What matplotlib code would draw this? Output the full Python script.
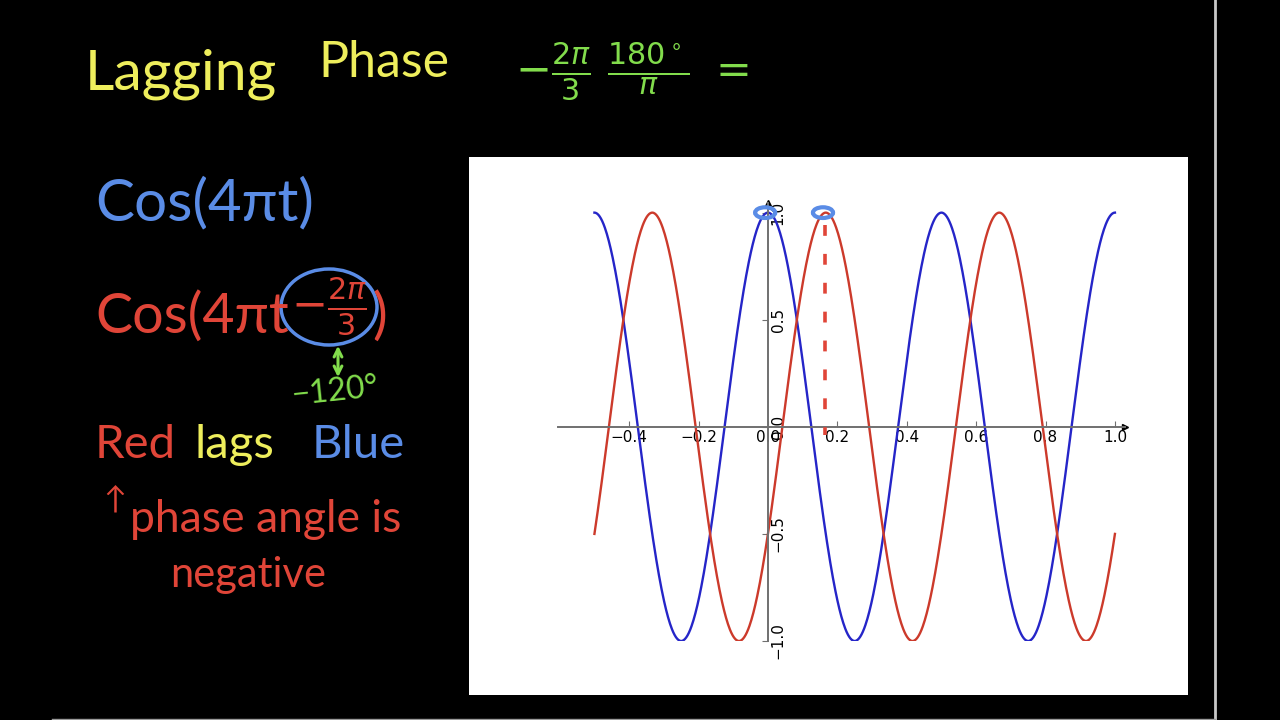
"""
lagging_phase.py

Lecture frame: cos(4*pi*t) against cos(4*pi*t - 2*pi/3) with notes.
"""

import numpy as np
import matplotlib.pyplot as plt
from matplotlib.patches import Rectangle, Ellipse, FancyArrowPatch

W, H = 1280, 720

# the two curves on the slide: cos(OMEGA * t + phase)
T_RANGE = (-0.5, 1.0)
OMEGA = 4 * np.pi
PHASES = [0.0, -2 * np.pi / 3]
CURVE_COLORS = ["#2525c8", "#cc3a2b"]

X_TICKS = [-0.4, -0.2, 0.0, 0.2, 0.4, 0.6, 0.8, 1.0]
Y_TICKS = [-1.0, -0.5, 0.0, 0.5, 1.0]

# peaks circled by hand on the plot
PEAK_T = [0.0, 1 / 6]

YELLOW = "#eeee5c"
GREEN = "#82dc4c"
BLUE = "#5a8ce6"
RED = "#e04538"
HAND = ["Lato", "DejaVu Sans"]


def fx(px):
    return px / W


def fy(py):
    return 1 - py / H


def note(fig, s, x, y, color, size, **kw):
    kw.setdefault("va", "baseline")
    fig.text(fx(x), fy(y), s, color=color, fontsize=size,
             family=HAND, **kw)


def main():
    fig = plt.figure(figsize=(12.8, 7.2), dpi=100, facecolor="black")

    # white panel holding the plot
    fig.patches.append(Rectangle((fx(469), fy(695)), (1188 - 469) / W,
                                 (695 - 157) / H, transform=fig.transFigure,
                                 facecolor="white", edgecolor="none",
                                 zorder=-2))
    # frame edge lines of the recording
    fig.lines.append(plt.Line2D([fx(1215), fx(1215)], [0, 1],
                                transform=fig.transFigure,
                                color="#c8c8c8", lw=2))
    fig.lines.append(plt.Line2D([fx(52), fx(1215)], [fy(719), fy(719)],
                                transform=fig.transFigure,
                                color="#9a9a9a", lw=1))

    ax = fig.add_axes([fx(558), fy(641), (1125 - 558) / W, (641 - 203) / H])
    ax.set_facecolor("none")

    t = np.linspace(T_RANGE[0], T_RANGE[1], 800)
    for phase, color in zip(PHASES, CURVE_COLORS):
        ax.plot(t, np.cos(OMEGA * t + phase), color=color, lw=1.7)

    ax.set_xlim(-0.605, 1.029)
    ax.set_ylim(-1.0, 1.045)

    for side in ["top", "right"]:
        ax.spines[side].set_visible(False)
    for side in ["left", "bottom"]:
        ax.spines[side].set_position("zero")
        ax.spines[side].set_color("#707070")
        ax.spines[side].set_linewidth(1.4)

    ax.set_xticks(X_TICKS)
    ax.set_yticks(Y_TICKS)
    ax.tick_params(axis="x", direction="in", length=4, pad=2,
                   colors="black", labelsize=11)
    ax.tick_params(axis="x", color="#707070")
    ax.tick_params(axis="y", direction="out", length=4, pad=-6,
                   labelrotation=90, colors="black", labelsize=11)
    ax.tick_params(axis="y", color="#707070")
    plt.setp(ax.get_yticklabels(), ha="left", va="center")

    # axis arrows
    ax.plot(1, 0, ">", color="black", ms=4,
            transform=ax.get_yaxis_transform(), clip_on=False)
    ax.plot(0, 1, "^", color="black", ms=4,
            transform=ax.get_xaxis_transform(), clip_on=False)

    # hand-drawn marks on the plot
    for pt in PEAK_T:
        ax.add_patch(Ellipse((pt - 0.008, 1.0), 0.058, 0.05, fill=False,
                             edgecolor=BLUE, lw=3, clip_on=False, zorder=5))
    ax.plot([PEAK_T[1] - 0.002, PEAK_T[1] - 0.002], [0.94, -0.04],
            color=RED, lw=2.6, ls=(0, (3, 5)), zorder=5)

    # handwritten notes
    note(fig, "Lagging", 85, 90, YELLOW, 41)
    note(fig, "Phase", 318, 77, YELLOW, 36)
    note(fig, r"$-\frac{2\pi}{3}\ \frac{180^\circ}{\pi}\ =$", 515, 72,
         GREEN, 31, va="center")

    note(fig, "Cos(4πt)", 95, 220, BLUE, 42)

    note(fig, "Cos(4πt", 95, 333, RED, 40)
    note(fig, r"$-\frac{2\pi}{3}$", 329, 307, RED, 31,
         ha="center", va="center")
    note(fig, ")", 372, 333, RED, 40)
    fig.patches.append(Ellipse((fx(329), fy(307)), 96 / W, 76 / H,
                               transform=fig.transFigure, fill=False,
                               edgecolor=BLUE, lw=2.5))
    fig.patches.append(FancyArrowPatch(
        (fx(338), fy(343)), (fx(338), fy(380)), transform=fig.transFigure,
        arrowstyle="<->", mutation_scale=14, color=GREEN, lw=2.2))
    note(fig, "−120°", 290, 405, GREEN, 23, rotation=6)

    note(fig, "Red", 95, 458, RED, 34)
    note(fig, "lags", 195, 458, YELLOW, 34)
    note(fig, "Blue", 312, 458, BLUE, 34)
    note(fig, "↑", 103, 508, RED, 22)
    note(fig, "phase angle is", 130, 532, RED, 32)
    note(fig, "negative", 170, 587, RED, 30)

    fig.savefig("out.png", dpi=100, facecolor="black")
    plt.close(fig)


if __name__ == "__main__":
    main()
